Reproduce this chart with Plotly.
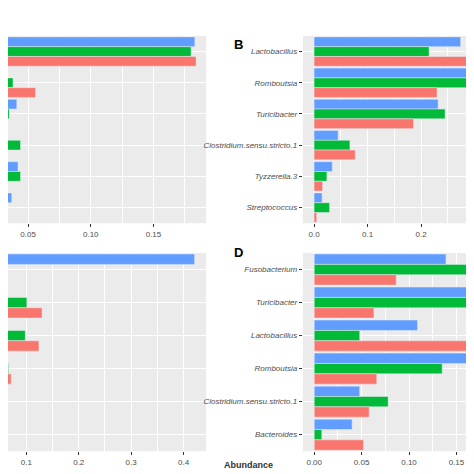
import plotly.graph_objects as go

groups = ["G1", "G2", "G3"]
colors = ["#619CFF", "#00BA38", "#F8766D"]

cats_a = ["Lactobacillus", "Romboutsia", "Turicibacter", "Clostridium.sensu.stricto.1", "Tyzzerella.3", "Streptococcus"]
a_blue = [0.183, 0.020, 0.041, 0.020, 0.042, 0.037]
a_green = [0.180, 0.038, 0.035, 0.044, 0.044, 0.020]
a_red = [0.184, 0.056, 0.020, 0.020, 0.020, 0.020]

cats_b = ["Lactobacillus", "Romboutsia", "Turicibacter", "Clostridium.sensu.stricto.1", "Tyzzerella.3", "Streptococcus"]
b_blue = [0.274, 0.330, 0.232, 0.045, 0.034, 0.015]
b_green = [0.215, 0.297, 0.245, 0.067, 0.024, 0.029]
b_red = [0.330, 0.230, 0.186, 0.077, 0.016, 0.005]

cats_c = ["Fusobacterium", "Turicibacter", "Lactobacillus", "Romboutsia", "Clostridium.sensu.stricto.1", "Bacteroides"]
c_blue = [0.421, 0.030, 0.030, 0.020, 0.030, 0.020]
c_green = [0.040, 0.101, 0.098, 0.066, 0.020, 0.030]
c_red = [0.050, 0.130, 0.124, 0.071, 0.040, 0.010]

cats_d = ["Fusobacterium", "Turicibacter", "Lactobacillus", "Romboutsia", "Clostridium.sensu.stricto.1", "Bacteroides"]
d_blue = [0.139, 0.200, 0.109, 0.162, 0.048, 0.040]
d_green = [0.200, 0.200, 0.048, 0.135, 0.078, 0.008]
d_red = [0.0865, 0.063, 0.200, 0.066, 0.058, 0.052]

panels = [
    (cats_a, [a_blue, a_green, a_red], "x", "y", [0.034, 0.192], [0.05, 0.10, 0.15], ["0.05", "0.10", "0.15"], False),
    (cats_b, [b_blue, b_green, b_red], "x2", "y2", [-0.021, 0.314], [0.0, 0.1, 0.2, 0.3], ["0.0", "0.1", "0.2", "0.3"], True),
    (cats_c, [c_blue, c_green, c_red], "x3", "y3", [0.065, 0.443], [0.1, 0.2, 0.3, 0.4], ["0.1", "0.2", "0.3", "0.4"], False),
    (cats_d, [d_blue, d_green, d_red], "x4", "y4", [-0.012, 0.177], [0.0, 0.05, 0.10, 0.15], ["0.00", "0.05", "0.10", "0.15"], True),
]

fig = go.Figure()
xdom = [[0, 0.418], [0.622, 1.0], [0, 0.418], [0.622, 1.0]]
ydom = [[0.546, 0.941], [0.546, 0.941], [0.065, 0.483], [0.065, 0.483]]
layout = {}
for i, (cats, vals, xa, ya, rng, tv, tt, showlab) in enumerate(panels):
    for g, c, v in zip(groups, colors, vals):
        fig.add_trace(go.Bar(y=cats, x=v, orientation="h", name=g, marker_color=c,
                             xaxis=xa, yaxis=ya, showlegend=False, offsetgroup=g))
    suffix = "" if i == 0 else str(i + 1)
    layout["xaxis" + suffix] = dict(domain=xdom[i], range=rng, anchor=ya, tickvals=tv, ticktext=tt,
                                    automargin=False,
                                    showgrid=True, gridcolor="white", gridwidth=1,
                                    minor=dict(showgrid=True, gridcolor="white", gridwidth=0.5, dtick=(tv[1]-tv[0])/2),
                                    ticks="outside", ticklen=3, tickcolor="#333",
                                    tickfont=dict(size=8, color="#4D4D4D"), zeroline=False)
    layout["yaxis" + suffix] = dict(domain=ydom[i], anchor=xa, categoryorder="array", categoryarray=cats,
                                    automargin=False,
                                    autorange="reversed", showgrid=True, gridcolor="white", gridwidth=1,
                                    showticklabels=showlab, ticks="outside" if showlab else "", ticklen=3,
                                    tickcolor="#333", tickfont=dict(size=8, color="#4D4D4D", style="italic"))
fig.update_layout(**layout)
fig.update_layout(width=474, height=474, margin=dict(l=0, r=0, t=0, b=0, autoexpand=False),
                  plot_bgcolor="#EBEBEB", paper_bgcolor="white", barmode="group",
                  bargap=0.06, bargroupgap=0, font=dict(family="Liberation Sans"),
                  annotations=[
                      dict(text="<b>B</b>", x=230/474, y=1-27/474, xref="paper", yref="paper", showarrow=False, font=dict(size=13, color="black")),
                      dict(text="<b>D</b>", x=230/474, y=1-244/474, xref="paper", yref="paper", showarrow=False, font=dict(size=13, color="black")),
                      dict(text="<b>Abundance</b>", x=240/474, y=1-464/474, xref="paper", yref="paper", showarrow=False, font=dict(size=9, color="#333")),
                  ])
fig.write_html("out.html")
